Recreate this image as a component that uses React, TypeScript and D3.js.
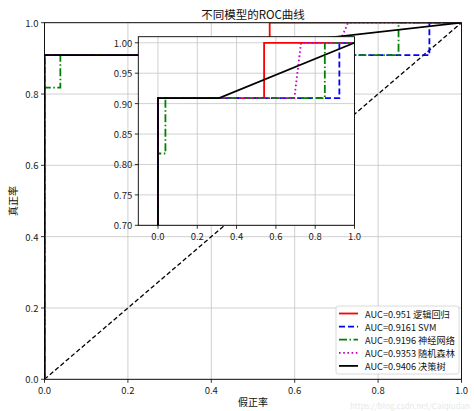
import React from "react";
import * as d3 from "d3";

const modelNames = ["逻辑回归", "SVM", "神经网络", "随机森林", "决策树"];
const aucValues = ["0.951", "0.9161", "0.9196", "0.9353", "0.9406"];

const lrFpr = [0, 0, 0.54, 0.54, 1];
const lrTpr = [0, 0.909, 0.909, 1, 1];
const svmFpr = [0, 0, 0.923, 0.923, 1];
const svmTpr = [0, 0.909, 0.909, 1, 1];
const nnFpr = [0, 0, 0.038, 0.038, 0.849, 0.849, 1];
const nnTpr = [0, 0.818, 0.818, 0.909, 0.909, 1, 1];
const rfFpr = [0, 0, 0.694, 0.728, 1];
const rfTpr = [0, 0.909, 0.909, 1, 1];
const dtFpr = [0, 0, 0.311, 1];
const dtTpr = [0, 0.909, 0.909, 1];

const diagX = [0, 1];
const diagY = [0, 1];

const mainTicks = [0, 0.2, 0.4, 0.6, 0.8, 1.0];
const insetXTicks = [0, 0.2, 0.4, 0.6, 0.8, 1.0];
const insetYTicks = [0.7, 0.75, 0.8, 0.85, 0.9, 0.95, 1.0];

const FONT = "'Noto Sans CJK SC', 'DejaVu Sans', sans-serif";

const seriesList = [
  { fpr: lrFpr, tpr: lrTpr, color: "#ff0000", dash: "none", width: 1.8 },
  { fpr: svmFpr, tpr: svmTpr, color: "#0000ff", dash: "6,3", width: 1.8 },
  { fpr: nnFpr, tpr: nnTpr, color: "#008000", dash: "8,2.5,1.5,2.5", width: 1.8 },
  { fpr: rfFpr, tpr: rfTpr, color: "#bf00bf", dash: "1.6,2.6", width: 1.8 },
  { fpr: dtFpr, tpr: dtTpr, color: "#000000", dash: "none", width: 1.8 },
];

type Box = { l: number; r: number; t: number; b: number };

function Panel(props: {
  id: string;
  box: Box;
  xDomain: [number, number];
  yDomain: [number, number];
  xTicks: number[];
  yTicks: number[];
  yFmt: (v: number) => string;
  showDiag: boolean;
  fontSize: number;
}) {
  const { id, box, xDomain, yDomain, xTicks, yTicks, yFmt, showDiag, fontSize } = props;
  const x = d3.scaleLinear().domain(xDomain).range([box.l, box.r]);
  const y = d3.scaleLinear().domain(yDomain).range([box.b, box.t]);
  const line = (xs: number[], ys: number[]) =>
    d3
      .line<number>()
      .x((_, i) => x(xs[i]))
      .y((_, i) => y(ys[i]))(xs) || "";
  const xf = d3.format(".1f");
  return (
    <g>
      <defs>
        <clipPath id={id}>
          <rect x={box.l} y={box.t} width={box.r - box.l} height={box.b - box.t} />
        </clipPath>
      </defs>
      <rect x={box.l} y={box.t} width={box.r - box.l} height={box.b - box.t} fill="#fff" />
      {xTicks.map((t) => (
        <line key={"gx" + t} x1={x(t)} x2={x(t)} y1={box.t} y2={box.b} stroke="#c4c4c4" strokeWidth={0.8} />
      ))}
      {yTicks.map((t) => (
        <line key={"gy" + t} x1={box.l} x2={box.r} y1={y(t)} y2={y(t)} stroke="#c4c4c4" strokeWidth={0.8} />
      ))}
      <g clipPath={`url(#${id})`}>
        {showDiag && (
          <path d={line(diagX, diagY)} fill="none" stroke="#000" strokeWidth={1.3} strokeDasharray="4.5,2.5" />
        )}
        {seriesList.map((s, i) => (
          <path
            key={i}
            d={line(s.fpr, s.tpr)}
            fill="none"
            stroke={s.color}
            strokeWidth={s.width}
            strokeDasharray={s.dash}
          />
        ))}
      </g>
      <rect x={box.l} y={box.t} width={box.r - box.l} height={box.b - box.t} fill="none" stroke="#000" strokeWidth={0.9} />
      {xTicks.map((t) => (
        <g key={"tx" + t}>
          <line x1={x(t)} x2={x(t)} y1={box.b} y2={box.b + 3.5} stroke="#000" strokeWidth={0.8} />
          <text x={x(t)} y={box.b + 6} fontSize={fontSize} fontFamily={FONT} textAnchor="middle" dominantBaseline="hanging" fill="#222">
            {xf(t)}
          </text>
        </g>
      ))}
      {yTicks.map((t) => (
        <g key={"ty" + t}>
          <line x1={box.l - 3.5} x2={box.l} y1={y(t)} y2={y(t)} stroke="#000" strokeWidth={0.8} />
          <text x={box.l - 6} y={y(t)} fontSize={fontSize} fontFamily={FONT} textAnchor="end" dominantBaseline="central" fill="#222">
            {yFmt(t)}
          </text>
        </g>
      ))}
    </g>
  );
}

export default function App() {
  const W = 474;
  const H = 411;
  const mainBox: Box = { l: 44.5, r: 461.5, t: 22.7, b: 379.3 };
  const insetBox: Box = { l: 138.3, r: 354.5, t: 36.7, b: 225.3 };
  const legX = 336;
  const legY = 306;
  const legW = 123;
  const legH = 68;
  const rowH = 13.1;
  return (
    <svg width={W} height={H} style={{ position: "absolute", left: 0, top: 0, background: "#fff" }}>
      <rect x={0} y={0} width={W} height={H} fill="#fff" />
      <Panel
        id="clipMain"
        box={mainBox}
        xDomain={[0, 1]}
        yDomain={[0, 1]}
        xTicks={mainTicks}
        yTicks={mainTicks}
        yFmt={d3.format(".1f")}
        showDiag={true}
        fontSize={9.5}
      />
      <Panel
        id="clipInset"
        box={insetBox}
        xDomain={[-0.1, 1.0]}
        yDomain={[0.7, 1.01]}
        xTicks={insetXTicks}
        yTicks={insetYTicks}
        yFmt={d3.format(".2f")}
        showDiag={false}
        fontSize={9.5}
      />
      <text x={(mainBox.l + mainBox.r) / 2} y={14} fontSize={11.5} fontFamily={FONT} textAnchor="middle" dominantBaseline="central" fill="#111">
        不同模型的ROC曲线
      </text>
      <text x={(mainBox.l + mainBox.r) / 2} y={401} fontSize={10} fontFamily={FONT} textAnchor="middle" dominantBaseline="central" fill="#111">
        假正率
      </text>
      <text
        transform={`translate(12,${(mainBox.t + mainBox.b) / 2}) rotate(-90)`}
        fontSize={10}
        fontFamily={FONT}
        textAnchor="middle"
        dominantBaseline="central"
        fill="#111"
      >
        真正率
      </text>
      <g>
        <rect x={legX} y={legY} width={legW} height={legH} rx={2} fill="#fff" fillOpacity={0.85} stroke="#d0d0d0" strokeWidth={0.8} />
        {seriesList.map((s, i) => {
          const cy = legY + 7.5 + i * rowH;
          return (
            <g key={i}>
              <line x1={legX + 3} x2={legX + 22} y1={cy} y2={cy} stroke={s.color} strokeWidth={s.width} strokeDasharray={s.dash} />
              <text x={legX + 29} y={cy} fontSize={9.2} fontFamily={FONT} dominantBaseline="central" fill="#111">
                {`AUC=${aucValues[i]} ${modelNames[i]}`}
              </text>
            </g>
          );
        })}
      </g>
      <text x={470} y={405.5} fontSize={8} fontFamily={FONT} textAnchor="end" dominantBaseline="central" fill="#e8e8e8">
        https://blog.csdn.net/Caiqiudan
      </text>
    </svg>
  );
}
